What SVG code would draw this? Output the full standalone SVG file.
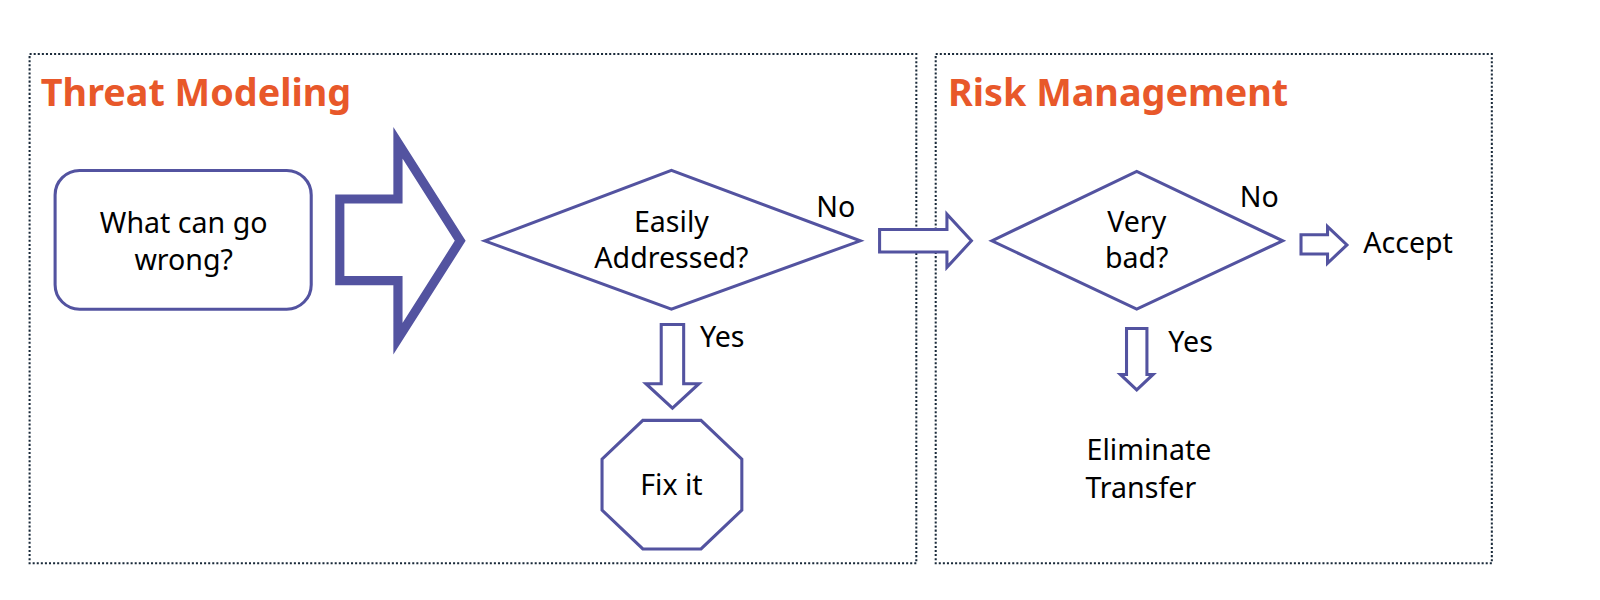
<svg xmlns="http://www.w3.org/2000/svg" width="1600" height="600" viewBox="0 0 1600 600">
<style>
.frame{fill:none;stroke:#1a2a3a;stroke-width:2;stroke-dasharray:2 2}
.shape{fill:#fff;stroke:#5353A0;stroke-width:3}
.title{font-family:"Noto Sans",sans-serif;font-weight:bold;font-size:37px;fill:#E8582A}
.t{font-family:"Noto Sans",sans-serif;font-size:28px;fill:#000}
.m{text-anchor:middle}
</style>
<rect width="1600" height="600" fill="#fff"/>
<g transform="scale(1.0204)">
<rect class="frame" x="29" y="53" width="869" height="499"/>
<rect class="frame" x="917" y="53" width="545" height="499"/>
<text class="title" x="40" y="104">Threat Modeling</text>
<text class="title" x="929" y="104">Risk Management</text>
<g id="start"><rect class="shape" x="54" y="167" width="251" height="136" rx="24"/>
<text class="t m" x="180" y="228">What can go</text><text class="t m" x="180" y="265">wrong?</text></g>
<g id="d1"><polygon class="shape" points="475,236 658,167 843,236 658,303"/>
<text class="t m" x="658" y="227">Easily</text><text class="t m" x="658" y="263">Addressed?</text></g>
<g id="fix"><polygon class="shape" points="630,412 687,412 727,450 727,500 687,538 630,538 590,500 590,450"/>
<text class="t m" x="658" y="485">Fix it</text></g>
<g id="d2"><polygon class="shape" points="972,236 1114,168 1257,236 1114,303"/>
<text class="t m" x="1114" y="227">Very</text><text class="t m" x="1114" y="263">bad?</text></g>
<g id="accept"><text class="t" x="1336" y="248">Accept</text></g>
<g id="elim"><text class="t m" x="1126" y="451">Eliminate</text><text class="t m" x="1118" y="488">Transfer</text></g>
<g id="connectors">
<polygon points="333,195 390,195 390,140 451,236 390,332 390,275 333,275" fill="#fff" stroke="#5353A0" stroke-width="9"/>
<polygon class="shape" points="862,225 928,225 928,210 952,236 928,262 928,247 862,247"/>
<polygon class="shape" points="648,318 670,318 670,376 685,376 659,400 633,376 648,376"/>
<polygon class="shape" points="1275,230 1301,230 1301,222 1320,240 1301,258 1301,249 1275,249"/>
<polygon class="shape" points="1104,322 1124,322 1124,367 1130,367 1114,382 1098,367 1104,367"/>
</g>
<text class="t" x="800" y="213">No</text>
<text class="t" x="686" y="340">Yes</text>
<text class="t" x="1215" y="203">No</text>
<text class="t" x="1145" y="345">Yes</text>
</g>
</svg>
